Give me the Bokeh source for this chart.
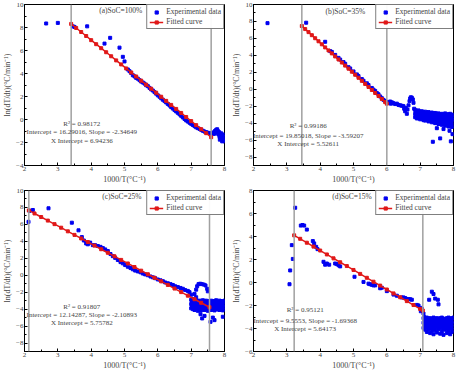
from bokeh.plotting import figure
from bokeh.layouts import gridplot
from bokeh.models import Span, Label, SingleIntervalTicker, Range1d
from bokeh.embed import file_html
from bokeh.resources import INLINE

# ---------------- DATA ----------------
x_ticks_label = "1000/T(°C⁻¹)"
y_label = "ln(dT/dt)(°C/min⁻¹)"

# Panel (a) SoC=100%
a_title = "(a)SoC=100%"
a_stats = ["R² = 0.98172", "Intercept = 16.29016, Slope = -2.34649", "X Intercept = 6.94236"]
a_vlines = [3.4, 7.6]
a_exp_x = [2.65, 3.0, 3.45, 3.5, 3.88, 4.4, 4.57, 4.85, 4.95, 5.0,
           5.10, 5.15, 5.20, 5.25, 5.30, 5.35, 5.40, 5.45, 5.50, 5.55, 5.60, 5.65, 5.70, 5.75, 5.80, 5.85,
           5.90, 5.95, 6.00, 6.05, 6.10, 6.15, 6.20, 6.25, 6.30, 6.35, 6.40, 6.45, 6.50, 6.55, 6.60, 6.65,
           6.70, 6.75, 6.80, 6.85, 6.90, 6.95, 7.00, 7.05, 7.10, 7.15, 7.20, 7.25, 7.30, 7.35, 7.40, 7.45,
           7.50, 7.55, 7.60]
a_exp_y = [8.35, 8.4, 8.1, 8.05, 8.1, 6.6, 7.1, 6.25, 5.45, 5.05,
           4.35, 4.20, 4.05, 3.85, 3.75, 3.62, 3.55, 3.42, 3.30, 3.22, 3.12, 2.98, 2.90, 2.75, 2.62, 2.52,
           2.38, 2.25, 2.10, 1.98, 1.85, 1.72, 1.60, 1.48, 1.35, 1.22, 1.08, 0.95, 0.82, 0.70, 0.58, 0.45,
           0.32, 0.18, 0.05, -0.08, -0.18, -0.28, -0.38, -0.48, -0.58, -0.68, -0.75, -0.82, -0.90, -0.98, -1.05, -1.10,
           -1.15, -1.20, -1.22]
a_tail_x = [7.65, 7.68, 7.70, 7.72, 7.75, 7.76, 7.78, 7.80, 7.82, 7.84, 7.85, 7.86, 7.87, 7.88, 7.90, 7.91,
            7.92, 7.93, 7.94, 7.95, 7.96, 7.97, 7.98, 7.99, 8.00]
a_tail_y = [-1.15, -1.25, -1.05, -1.0, -0.9, -1.2, -0.85, -1.0, -1.3, -1.1, -1.5, -1.75, -1.3, -1.6, -1.2, -1.45,
            -1.7, -1.9, -1.35, -1.6, -1.85, -1.5, -1.75, -1.3, -1.9]
a_fit_x = [3.40, 3.55, 3.70, 3.85, 4.00, 4.15, 4.30, 4.45, 4.60, 4.75, 4.90, 5.05, 5.20, 5.35, 5.50,
           5.65, 5.80, 5.95, 6.10, 6.25, 6.40, 6.55, 6.70, 6.85, 7.00, 7.15, 7.30, 7.45, 7.60]
a_fit_y = [8.31, 7.96, 7.61, 7.26, 6.90, 6.55, 6.20, 5.85, 5.50, 5.14, 4.79, 4.44, 4.09, 3.74, 3.38,
           3.03, 2.68, 2.33, 1.98, 1.62, 1.27, 0.92, 0.57, 0.22, -0.14, -0.49, -0.84, -1.19, -1.54]

# Panel (b) SoC=35%
b_title = "(b)SoC=35%"
b_stats = ["R² = 0.99186", "Intercept = 19.85018, Slope = -3.59207", "X Intercept = 5.52611"]
b_vlines = [3.45, 6.0]
b_exp_x = [2.42, 3.58, 4.15, 4.30, 4.35, 4.45, 4.55, 4.60, 4.70, 4.75, 4.85, 4.90, 5.00, 5.10, 5.15, 5.25,
           5.30, 5.40, 5.45, 5.55, 5.60, 5.65, 5.70, 5.75, 5.80, 5.85, 5.90, 5.95, 6.00,
           6.05, 6.10, 6.12, 6.15, 6.20, 6.25, 6.30, 6.35, 6.40, 6.45, 6.50, 6.52, 6.55, 6.57, 6.60, 6.62,
           6.65, 6.68, 6.70, 6.72, 6.75, 6.78, 6.80, 6.82,
           7.38, 7.60, 7.92, 7.97, 7.88, 7.50, 7.70]
b_exp_y = [7.8, 7.85, 5.6, 4.5, 4.4, 4.05, 3.7, 3.5, 3.2, 3.0, 2.6, 2.45, 2.1, 1.75, 1.55, 1.2,
           1.0, 0.7, 0.5, 0.15, -0.05, -0.2, -0.45, -0.6, -0.85, -1.05, -1.25, -1.4, -1.5,
           -1.6, -1.45, -1.7, -1.55, -1.65, -1.75, -1.7, -1.85, -1.9, -1.95, -2.0, -2.3, -2.6, -2.2, -2.9, -2.4,
           -1.9, -1.4, -1.1, -0.95, -1.0, -1.2, -1.6, -2.3,
           -6.2, -5.8, -6.15, -5.3, -4.9, -4.6, -4.7]
b_band_x = [6.85, 6.90, 6.95, 7.00, 7.05, 7.10, 7.15, 7.20, 7.25, 7.30, 7.35, 7.40, 7.45, 7.50, 7.55,
            7.60, 7.65, 7.70, 7.75, 7.80, 7.85, 7.90, 7.95, 8.00]
b_band_u = [-2.45, -2.55, -2.50, -2.65, -2.60, -2.70, -2.65, -2.75, -2.70, -2.80, -2.75, -2.85, -2.80, -2.90,
            -2.85, -2.95, -2.90, -3.00, -2.85, -3.00, -2.95, -2.90, -3.05, -3.00]
b_band_m = [-2.90, -2.95, -3.05, -3.00, -3.10, -3.15, -3.10, -3.20, -3.25, -3.20, -3.30, -3.35, -3.30, -3.40,
            -3.35, -3.45, -3.40, -3.50, -3.45, -3.50, -3.55, -3.50, -3.60, -3.55]
b_band_l = [-3.30, -3.45, -3.40, -3.55, -3.50, -3.65, -3.70, -3.60, -3.80, -3.75, -3.90, -3.85, -4.00, -3.95,
            -4.10, -4.05, -4.20, -4.10, -4.30, -4.15, -4.40, -4.25, -4.45, -4.35]
b_band_x2 = [6.875, 6.925, 6.975, 7.025, 7.075, 7.125, 7.175, 7.225, 7.275, 7.325, 7.375, 7.425, 7.475,
             7.525, 7.575, 7.625, 7.675, 7.725, 7.775, 7.825, 7.875, 7.925, 7.975]
b_band_v = [-2.70, -2.75, -2.85, -2.80, -2.90, -2.95, -3.00, -2.95, -3.05, -3.10, -3.05, -3.15, -3.10, -3.20,
            -3.15, -3.25, -3.20, -3.30, -3.25, -3.35, -3.30, -3.40, -3.35]
b_band_w = [-3.10, -3.20, -3.25, -3.35, -3.30, -3.40, -3.45, -3.50, -3.55, -3.60, -3.55, -3.65, -3.70, -3.65,
            -3.75, -3.80, -3.75, -3.85, -3.90, -3.85, -3.95, -4.00, -3.90]
b_fit_x = [3.45, 3.55, 3.65, 3.75, 3.85, 3.95, 4.05, 4.15, 4.25, 4.35, 4.45, 4.55, 4.65, 4.75, 4.85,
           4.95, 5.05, 5.15, 5.25, 5.35, 5.45, 5.55, 5.65, 5.75, 5.85, 5.95, 6.00]
b_fit_y = [7.46, 7.10, 6.74, 6.38, 6.02, 5.66, 5.30, 4.94, 4.58, 4.23, 3.87, 3.51, 3.15, 2.79, 2.43,
           2.07, 1.71, 1.35, 0.99, 0.63, 0.27, -0.09, -0.44, -0.80, -1.16, -1.52, -1.70]

# Panel (c) SoC=25%
c_title = "(c)SoC=25%"
c_stats = ["R² = 0.91807", "Intercept = 12.14287, Slope = -2.10893", "X Intercept = 5.75782"]
c_vlines = [2.13, 7.55]
c_exp_x = [2.12, 2.15, 2.25, 2.72, 3.42, 3.62, 3.72, 3.78, 3.85, 3.90, 3.97, 4.05, 4.12, 4.20, 4.28, 4.35,
           4.42, 4.50, 4.58, 4.65, 4.72, 4.80, 4.88, 4.95, 5.02, 5.10, 5.18, 5.25, 5.32, 5.40, 5.48, 5.55,
           5.62, 5.70, 5.78, 5.85, 5.92, 6.00, 6.08, 6.15, 6.22, 6.30, 6.38, 6.45, 6.52, 6.60, 6.68, 6.75,
           6.82, 6.90, 6.95, 7.00,
           7.05, 7.10, 7.15, 7.18, 7.22, 7.27, 7.32, 7.38, 7.43, 7.48, 7.50, 7.15,
           7.28, 7.33, 7.58, 7.65, 7.70, 7.95, 7.40]
c_exp_y = [6.3, 7.6, 7.7, 7.9, 6.2, 5.3, 4.5, 4.1, 3.75, 3.65, 3.85, 3.55, 3.55, 3.45, 3.35, 3.2,
           3.05, 2.85, 2.5, 2.25, 2.05, 1.8, 1.55, 1.4, 1.2, 1.0, 0.85, 0.7, 0.55, 0.45, 0.35, 0.2,
           0.1, 0.0, -0.15, -0.25, -0.35, -0.5, -0.6, -0.7, -0.85, -0.95, -1.05, -1.15, -1.3, -1.4, -1.5, -1.6,
           -1.75, -1.85, -2.0, -2.3,
           -2.8, -2.2, -1.7, -1.3, -1.05, -1.0, -1.05, -1.1, -1.2, -1.6, -1.9, -2.6,
           -4.6, -5.1, -5.5, -5.0, -5.3, -4.9, -4.8]
c_band_x = [7.00, 7.05, 7.10, 7.15, 7.20, 7.25, 7.30, 7.35, 7.40, 7.45, 7.50, 7.55, 7.60, 7.65, 7.70,
            7.75, 7.80, 7.85, 7.90, 7.95, 8.00]
c_band_u = [-2.90, -3.00, -3.10, -2.95, -3.05, -3.00, -3.10, -2.95, -3.05, -3.00, -3.10, -3.05, -3.00, -3.10,
            -3.05, -2.95, -3.10, -3.00, -3.05, -3.10, -3.00]
c_band_m = [-3.40, -3.50, -3.45, -3.55, -3.40, -3.60, -3.50, -3.45, -3.55, -3.50, -3.60, -3.45, -3.55, -3.50,
            -3.60, -3.45, -3.55, -3.50, -3.40, -3.55, -3.50]
c_band_l = [-3.90, -4.00, -4.10, -3.95, -4.20, -4.05, -4.15, -3.90, -4.10, -4.00, -4.20, -3.95, -4.10, -4.05,
            -4.15, -3.95, -4.05, -4.10, -3.95, -4.15, -4.00]
c_band_x2 = [7.025, 7.075, 7.125, 7.175, 7.225, 7.275, 7.325, 7.375, 7.425, 7.475, 7.525, 7.575, 7.625,
             7.675, 7.725, 7.775, 7.825, 7.875, 7.925, 7.975]
c_band_v = [-3.20, -3.25, -3.15, -3.30, -3.20, -3.25, -3.30, -3.15, -3.25, -3.20, -3.30, -3.25, -3.15, -3.30,
            -3.20, -3.25, -3.30, -3.20, -3.25, -3.15]
c_band_w = [-3.70, -3.80, -3.75, -3.85, -3.70, -3.80, -3.75, -3.90, -3.70, -3.80, -3.85, -3.75, -3.80, -3.70,
            -3.85, -3.75, -3.80, -3.70, -3.85, -3.75]
c_fit_x = [2.13, 2.30, 2.50, 2.70, 2.90, 3.10, 3.30, 3.50, 3.70, 3.90, 4.10, 4.30, 4.50, 4.70, 4.90,
           5.10, 5.30, 5.50, 5.70, 5.90, 6.10, 6.30, 6.50, 6.70, 6.90, 7.10, 7.30, 7.55]
c_fit_y = [7.65, 7.29, 6.87, 6.45, 6.03, 5.61, 5.18, 4.76, 4.34, 3.92, 3.50, 3.07, 2.65, 2.23, 1.81,
           1.39, 0.97, 0.54, 0.12, -0.30, -0.72, -1.14, -1.57, -1.99, -2.41, -2.83, -3.25, -3.78]

# Panel (d) SoC=15%
d_title = "(d)SoC=15%"
d_stats = ["R² = 0.95121", "Intercept = 9.5553, Slope = -1.69368", "X Intercept = 5.64173"]
d_vlines = [3.22, 7.08]
d_exp_x = [3.08, 3.10, 3.15, 3.18, 3.25, 3.42, 3.47, 3.52, 3.60, 3.78, 3.82, 3.88, 3.92, 4.10, 4.15, 4.20,
           4.27, 4.45, 4.50, 4.55, 4.60, 5.03, 5.30, 5.45, 5.50, 5.55, 5.60, 5.65, 5.80, 5.85, 6.00, 6.20,
           6.30, 6.45, 6.50, 6.55, 6.60, 6.65, 6.70, 6.75, 6.90, 6.95, 7.00, 7.02, 7.05, 7.10, 7.12, 7.15,
           7.27, 7.35, 7.40, 7.45, 7.53, 7.55]
d_exp_y = [-0.15, 1.05, 3.25, 2.05, 6.5, 4.95, 5.0, 4.95, 4.6, 3.6, 3.4, 3.1, 2.9, 1.8, 1.55, 1.65,
           1.55, 1.65, 1.6, 1.5, 1.4, 0.5, 0.05, -0.1, -0.15, -0.2, -0.25, -0.25, -0.5, -0.45, -0.75, -1.05,
           -1.15, -1.3, -1.3, -1.35, -1.45, -1.45, -1.45, -1.5, -1.95, -2.0, -2.2, -2.5, -2.3, -2.7, -3.0, -3.8,
           -1.5, -0.8, -1.0, -1.4, -1.5, -1.9]
d_band_x = [7.10, 7.15, 7.20, 7.25, 7.30, 7.35, 7.40, 7.45, 7.50, 7.55, 7.60, 7.65, 7.70, 7.75, 7.80,
            7.85, 7.90, 7.95, 8.00]
d_band_u = [-3.10, -3.20, -3.05, -3.15, -3.10, -3.20, -3.05, -3.15, -3.10, -3.20, -3.10, -3.05, -3.15, -3.20,
            -3.10, -3.05, -3.15, -3.10, -3.05]
d_band_m = [-3.50, -3.60, -3.55, -3.65, -3.50, -3.60, -3.70, -3.55, -3.65, -3.60, -3.50, -3.65, -3.55, -3.70,
            -3.60, -3.55, -3.65, -3.50, -3.60]
d_band_l = [-3.95, -4.10, -4.30, -4.05, -4.40, -4.20, -4.50, -4.15, -4.35, -4.05, -4.45, -4.25, -4.55, -4.10,
            -4.40, -4.20, -4.50, -4.30, -4.15]
d_band_x2 = [7.125, 7.175, 7.225, 7.275, 7.325, 7.375, 7.425, 7.475, 7.525, 7.575, 7.625, 7.675, 7.725,
             7.775, 7.825, 7.875, 7.925, 7.975]
d_band_v = [-3.35, -3.30, -3.40, -3.35, -3.30, -3.45, -3.35, -3.40, -3.30, -3.40, -3.35, -3.45, -3.30, -3.40,
            -3.35, -3.40, -3.30, -3.35]
d_band_w = [-3.80, -3.85, -3.90, -3.75, -3.95, -3.85, -4.00, -3.80, -3.90, -3.95, -3.85, -4.00, -3.90, -3.80,
            -3.95, -3.85, -4.00, -3.90]
d_fit_x = [3.22, 3.40, 3.60, 3.80, 4.00, 4.20, 4.40, 4.60, 4.80, 5.00, 5.20, 5.40, 5.60, 5.80, 6.00,
           6.20, 6.40, 6.60, 6.80, 7.00, 7.08]
d_fit_y = [4.10, 3.80, 3.46, 3.12, 2.78, 2.44, 2.10, 1.76, 1.43, 1.09, 0.75, 0.41, 0.07, -0.27, -0.61,
           -0.95, -1.28, -1.62, -1.96, -2.30, -2.44]

# ---------------- STYLE ----------------
FONT = "Liberation Serif"
BLUE = "#0000f0"
RED = "#e01818"
GRAY = "#a0a0a0"


def panel(xr, yr, ex, ey, fx, fy, vl, title, tpos, stats, spos):
    p = figure(width=229, height=186, x_range=Range1d(*xr), y_range=Range1d(*yr),
               output_backend="svg", toolbar_location=None,
               min_border_left=20, min_border_right=5, min_border_top=4, min_border_bottom=21)
    p.xgrid.visible = False
    p.ygrid.visible = False
    p.outline_line_color = "black"
    p.outline_line_width = 1
    p.xaxis.ticker = SingleIntervalTicker(interval=1, num_minor_ticks=2)
    p.yaxis.ticker = SingleIntervalTicker(interval=2, num_minor_ticks=2)
    for ax in (p.xaxis[0], p.yaxis[0]):
        ax.major_tick_in = 3
        ax.major_tick_out = 0
        ax.minor_tick_in = 2
        ax.minor_tick_out = 0
        ax.major_label_text_font = FONT
        ax.major_label_text_font_size = "7px"
        ax.axis_label_text_font = FONT
        ax.axis_label_text_font_size = "8px"
        ax.axis_label_text_font_style = "normal"
        ax.major_label_standoff = 1
        ax.axis_label_standoff = 1
        ax.axis_line_color = "black"
    p.xaxis.axis_label = x_ticks_label
    p.yaxis.axis_label = y_label

    for v in vl:
        p.add_layout(Span(location=v, dimension="height", line_color=GRAY, line_width=1.5))

    p.scatter(ex, ey, marker="square", size=3, color=BLUE, legend_label="Experimental data")
    p.line(fx, fy, line_color=RED, line_width=1.5, legend_label="Fitted curve")
    p.scatter(fx, fy, marker="square", size=3, color=RED, legend_label="Fitted curve")

    p.add_layout(Label(x=tpos[0], y=tpos[1], text=title, text_font=FONT, text_font_size="7.5px",
                       text_align="left", text_baseline="middle"))
    for s, yy in zip(stats, spos[1]):
        p.add_layout(Label(x=spos[0], y=yy, text=s, text_font=FONT, text_font_size="7px",
                           text_align="center", text_baseline="middle"))

    lg = p.legend[0]
    lg.location = "top_right"
    lg.margin = 0
    lg.padding = 2
    lg.spacing = 1
    lg.border_line_color = "black"
    lg.border_line_width = 1
    lg.label_text_font = FONT
    lg.label_text_font_size = "7.5px"
    lg.glyph_width = 14
    lg.glyph_height = 8
    lg.label_height = 9
    lg.label_standoff = 3
    return p


pa = panel((2, 8), (-4, 10), a_exp_x + a_tail_x, a_exp_y + a_tail_y, a_fit_x, a_fit_y, a_vlines,
           a_title, (4.24, 9.45), a_stats, (3.72, [-0.36, -1.12, -1.86]))
pb = panel((2, 8), (-9, 10),
           b_exp_x + b_band_x * 3 + b_band_x2 * 2,
           b_exp_y + b_band_u + b_band_m + b_band_l + b_band_v + b_band_w,
           b_fit_x, b_fit_y, b_vlines, b_title, (4.16, 9.2), b_stats, (3.64, [-4.38, -5.46, -6.5]))
pc = panel((2, 8), (-9, 10),
           c_exp_x + c_band_x * 3 + c_band_x2 * 2,
           c_exp_y + c_band_u + c_band_m + c_band_l + c_band_v + c_band_w,
           c_fit_x, c_fit_y, c_vlines, c_title, (4.33, 9.3), c_stats, (3.72, [-3.76, -4.68, -5.6]))
pd = panel((2, 8), (-6, 8),
           d_exp_x + d_band_x * 3 + d_band_x2 * 2,
           d_exp_y + d_band_u + d_band_m + d_band_l + d_band_v + d_band_w,
           d_fit_x, d_fit_y, d_vlines, d_title, (4.36, 7.5), d_stats, (3.55, [-2.36, -3.33, -4.08]))

grid = gridplot([[pa, pb], [pc, pd]], toolbar_location=None)

open("out.html", "w").write(file_html(grid, INLINE))
